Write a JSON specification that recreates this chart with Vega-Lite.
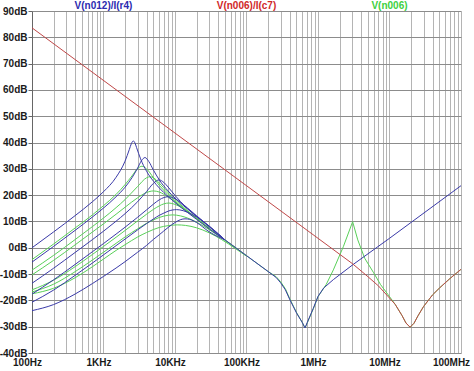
{
  "$schema": "https://vega.github.io/schema/vega-lite/v6.json",
  "width": 429,
  "height": 342,
  "autosize": {"type": "none"},
  "padding": {"left": 32, "top": 11, "right": 13, "bottom": 18},
  "background": "white",
  "config": {"view": {"stroke": null}, "font": "Liberation Sans", "axisY": {"tickCount": 13}},
  "datasets": {
    "g": [
      {"s":"g1","f":100,"v":-4.5},{"s":"g1","f":200,"v":1.4},{"s":"g1","f":400,"v":7.5},{"s":"g1","f":700,"v":12.5},{"s":"g1","f":1000,"v":16.0},{"s":"g1","f":1500,"v":20.3},{"s":"g1","f":2000,"v":24.0},{"s":"g1","f":2500,"v":27.3},{"s":"g1","f":3000,"v":30.1},{"s":"g1","f":3450,"v":31.0},{"s":"g1","f":4000,"v":30.0},{"s":"g1","f":5000,"v":26.6},{"s":"g1","f":6000,"v":23.8},{"s":"g1","f":8000,"v":20.2},{"s":"g1","f":10000,"v":17.7},{"s":"g1","f":13000,"v":15.1},{"s":"g1","f":17000,"v":12.55},{"s":"g1","f":22000,"v":10.2},{"s":"g1","f":30000,"v":7.4},
      {"s":"g2","f":100,"v":-8.5},{"s":"g2","f":200,"v":-2.9},{"s":"g2","f":400,"v":3.1},{"s":"g2","f":700,"v":8.05},{"s":"g2","f":1000,"v":11.3},{"s":"g2","f":1500,"v":15.25},{"s":"g2","f":2000,"v":18.3},{"s":"g2","f":3000,"v":23.3},{"s":"g2","f":4000,"v":26.6},{"s":"g2","f":4470,"v":27.0},{"s":"g2","f":5000,"v":26.6},{"s":"g2","f":6000,"v":24.65},{"s":"g2","f":8000,"v":20.95},{"s":"g2","f":10000,"v":18.3},{"s":"g2","f":13000,"v":15.5},{"s":"g2","f":17000,"v":12.85},{"s":"g2","f":22000,"v":10.4},{"s":"g2","f":30000,"v":7.4},
      {"s":"g3","f":100,"v":-10.3},{"s":"g3","f":200,"v":-4.8},{"s":"g3","f":400,"v":1.1},{"s":"g3","f":700,"v":6.0},{"s":"g3","f":1000,"v":9.1},{"s":"g3","f":1500,"v":12.75},{"s":"g3","f":2000,"v":15.4},{"s":"g3","f":3000,"v":19.0},{"s":"g3","f":4000,"v":21.0},{"s":"g3","f":5000,"v":21.6},{"s":"g3","f":6000,"v":21.2},{"s":"g3","f":8000,"v":19.3},{"s":"g3","f":10000,"v":17.4},{"s":"g3","f":13000,"v":15.0},{"s":"g3","f":17000,"v":12.6},{"s":"g3","f":22000,"v":10.3},{"s":"g3","f":30000,"v":7.4},
      {"s":"g4","f":100,"v":-16.0},{"s":"g4","f":200,"v":-12.35},{"s":"g4","f":400,"v":-7.2},{"s":"g4","f":700,"v":-2.55},{"s":"g4","f":1000,"v":0.5},{"s":"g4","f":1500,"v":4.0},{"s":"g4","f":2000,"v":6.55},{"s":"g4","f":3000,"v":10.2},{"s":"g4","f":4000,"v":12.75},{"s":"g4","f":5000,"v":14.6},{"s":"g4","f":6000,"v":15.9},{"s":"g4","f":7000,"v":16.7},{"s":"g4","f":8200,"v":17.0},{"s":"g4","f":10000,"v":16.5},{"s":"g4","f":13000,"v":14.9},{"s":"g4","f":17000,"v":12.65},{"s":"g4","f":22000,"v":10.35},{"s":"g4","f":30000,"v":7.4},
      {"s":"g5","f":100,"v":-16.8},{"s":"g5","f":200,"v":-13.85},{"s":"g5","f":400,"v":-9.1},{"s":"g5","f":700,"v":-4.65},{"s":"g5","f":1000,"v":-1.7},{"s":"g5","f":1500,"v":1.7},{"s":"g5","f":2000,"v":4.1},{"s":"g5","f":3000,"v":7.2},{"s":"g5","f":4000,"v":9.3},{"s":"g5","f":5000,"v":10.6},{"s":"g5","f":6000,"v":11.5},{"s":"g5","f":7000,"v":12.05},{"s":"g5","f":9280,"v":12.5},{"s":"g5","f":12000,"v":12.1},{"s":"g5","f":15000,"v":11.3},{"s":"g5","f":20000,"v":9.75},{"s":"g5","f":30000,"v":6.9},{"s":"g5","f":45000,"v":3.7},{"s":"g5","f":70000,"v":0.0},
      {"s":"g6","f":100,"v":-17.5},{"s":"g6","f":200,"v":-15.4},{"s":"g6","f":400,"v":-11.4},{"s":"g6","f":700,"v":-7.2},{"s":"g6","f":1000,"v":-4.3},{"s":"g6","f":1500,"v":-1.0},{"s":"g6","f":2000,"v":1.15},{"s":"g6","f":3000,"v":4.1},{"s":"g6","f":4000,"v":5.8},{"s":"g6","f":5000,"v":6.95},{"s":"g6","f":6000,"v":7.7},{"s":"g6","f":8000,"v":8.4},{"s":"g6","f":10800,"v":8.7},{"s":"g6","f":14000,"v":8.5},{"s":"g6","f":20000,"v":7.6},{"s":"g6","f":30000,"v":5.7},{"s":"g6","f":45000,"v":3.1},{"s":"g6","f":70000,"v":-0.3},{"s":"g6","f":100000,"v":-3.2}
    ],
    "gt": [
      {"f":30000,"v":7.4},{"f":45000,"v":3.9},{"f":70000,"v":0.1},{"f":100000,"v":-3.0},{"f":200000,"v":-9.0},{"f":260000,"v":-11.0},{"f":300000,"v":-12.9},{"f":350000,"v":-15.6},{"f":405000,"v":-19.5},{"f":503000,"v":-24.7},{"f":600000,"v":-28.3},{"f":658000,"v":-30.5},{"f":710000,"v":-28.5},{"f":860000,"v":-23.2},{"f":1000000,"v":-18.6},{"f":1300000,"v":-14.0},{"f":1640000,"v":-8.4},{"f":2260000,"v":0.4},{"f":3050000,"v":9.9},{"f":3600000,"v":3.0},{"f":4500000,"v":-4.0},{"f":6000000,"v":-9.5},{"f":7500000,"v":-14.0},{"f":9600000,"v":-17.9},{"f":12000000,"v":-21.5},{"f":15000000,"v":-25.8},{"f":17000000,"v":-28.6},{"f":19400000,"v":-30.2},{"f":22000000,"v":-28.7},{"f":25000000,"v":-25.9},{"f":30000000,"v":-22.3},{"f":40000000,"v":-17.9},{"f":50000000,"v":-15.3},{"f":70000000,"v":-11.7},{"f":100000000,"v":-8.2}
    ],
    "b": [
      {"s":"b1","f":100,"v":0.0},{"s":"b1","f":200,"v":6.0},{"s":"b1","f":400,"v":12.2},{"s":"b1","f":700,"v":17.5},{"s":"b1","f":1000,"v":21.3},{"s":"b1","f":1500,"v":26.8},{"s":"b1","f":2000,"v":32.9},{"s":"b1","f":2300,"v":37.4},{"s":"b1","f":2450,"v":39.55},{"s":"b1","f":2610,"v":40.6},{"s":"b1","f":2750,"v":39.85},{"s":"b1","f":2900,"v":38.1},{"s":"b1","f":3300,"v":33.8},{"s":"b1","f":4000,"v":29.1},{"s":"b1","f":5000,"v":25.3},{"s":"b1","f":6000,"v":22.8},{"s":"b1","f":8000,"v":19.5},{"s":"b1","f":10000,"v":17.2},{"s":"b1","f":15000,"v":13.4},{"s":"b1","f":20000,"v":10.8},{"s":"b1","f":30000,"v":7.2},{"s":"b1","f":50000,"v":3.0},
      {"s":"b2","f":100,"v":-5.45},{"s":"b2","f":200,"v":0.5},{"s":"b2","f":400,"v":6.6},{"s":"b2","f":700,"v":11.7},{"s":"b2","f":1000,"v":15.1},{"s":"b2","f":1500,"v":19.4},{"s":"b2","f":2000,"v":23.0},{"s":"b2","f":2500,"v":26.6},{"s":"b2","f":3000,"v":30.3},{"s":"b2","f":3400,"v":33.1},{"s":"b2","f":3800,"v":34.3},{"s":"b2","f":4300,"v":32.8},{"s":"b2","f":5000,"v":29.5},{"s":"b2","f":6000,"v":25.9},{"s":"b2","f":8000,"v":21.6},{"s":"b2","f":10000,"v":18.9},{"s":"b2","f":15000,"v":14.7},{"s":"b2","f":20000,"v":12.0},{"s":"b2","f":30000,"v":8.1},{"s":"b2","f":50000,"v":3.0},
      {"s":"b3","f":100,"v":-13.5},{"s":"b3","f":200,"v":-7.8},{"s":"b3","f":400,"v":-1.8},{"s":"b3","f":700,"v":3.1},{"s":"b3","f":1000,"v":6.3},{"s":"b3","f":1500,"v":10.1},{"s":"b3","f":2000,"v":12.95},{"s":"b3","f":3000,"v":17.5},{"s":"b3","f":4000,"v":21.35},{"s":"b3","f":5000,"v":24.5},{"s":"b3","f":6000,"v":25.8},{"s":"b3","f":7000,"v":24.8},{"s":"b3","f":8000,"v":23.1},{"s":"b3","f":10000,"v":19.9},{"s":"b3","f":12000,"v":17.5},{"s":"b3","f":15000,"v":14.9},{"s":"b3","f":20000,"v":11.9},{"s":"b3","f":30000,"v":8.0},{"s":"b3","f":50000,"v":3.0},
      {"s":"b4","f":100,"v":-17.6},{"s":"b4","f":200,"v":-12.2},{"s":"b4","f":400,"v":-6.35},{"s":"b4","f":700,"v":-1.5},{"s":"b4","f":1000,"v":1.6},{"s":"b4","f":1500,"v":5.2},{"s":"b4","f":2000,"v":7.8},{"s":"b4","f":3000,"v":11.6},{"s":"b4","f":4000,"v":14.4},{"s":"b4","f":5000,"v":16.6},{"s":"b4","f":6000,"v":18.2},{"s":"b4","f":7000,"v":19.1},{"s":"b4","f":8000,"v":19.4},{"s":"b4","f":10000,"v":18.65},{"s":"b4","f":12000,"v":17.2},{"s":"b4","f":15000,"v":15.1},{"s":"b4","f":20000,"v":12.2},{"s":"b4","f":30000,"v":8.2},{"s":"b4","f":50000,"v":3.0},
      {"s":"b5","f":100,"v":-20.7},{"s":"b5","f":200,"v":-16.1},{"s":"b5","f":400,"v":-10.5},{"s":"b5","f":700,"v":-5.8},{"s":"b5","f":1000,"v":-2.7},{"s":"b5","f":1500,"v":0.8},{"s":"b5","f":2000,"v":3.3},{"s":"b5","f":3000,"v":6.8},{"s":"b5","f":4000,"v":9.2},{"s":"b5","f":5000,"v":10.95},{"s":"b5","f":6000,"v":12.3},{"s":"b5","f":7000,"v":13.2},{"s":"b5","f":8000,"v":13.9},{"s":"b5","f":10500,"v":14.5},{"s":"b5","f":13000,"v":14.1},{"s":"b5","f":15000,"v":13.5},{"s":"b5","f":20000,"v":11.7},{"s":"b5","f":30000,"v":8.3},{"s":"b5","f":50000,"v":3.0},
      {"s":"b6","f":100,"v":-23.9},{"s":"b6","f":200,"v":-21.6},{"s":"b6","f":400,"v":-17.6},{"s":"b6","f":700,"v":-13.6},{"s":"b6","f":1000,"v":-10.9},{"s":"b6","f":1500,"v":-7.7},{"s":"b6","f":2000,"v":-5.3},{"s":"b6","f":3000,"v":-1.7},{"s":"b6","f":4000,"v":0.9},{"s":"b6","f":5000,"v":3.2},{"s":"b6","f":6000,"v":4.9},{"s":"b6","f":8000,"v":7.7},{"s":"b6","f":10000,"v":9.6},{"s":"b6","f":12000,"v":10.7},{"s":"b6","f":13800,"v":11.0},{"s":"b6","f":16000,"v":10.8},{"s":"b6","f":20000,"v":9.6},{"s":"b6","f":30000,"v":6.1},{"s":"b6","f":50000,"v":3.0}
    ],
    "bt": [
      {"f":50000,"v":3.0},{"f":100000,"v":-3.0},{"f":200000,"v":-9.0},{"f":260000,"v":-11.3},{"f":300000,"v":-13.3},{"f":350000,"v":-16.0},{"f":405000,"v":-19.8},{"f":503000,"v":-24.9},{"f":600000,"v":-28.3},{"f":658000,"v":-30.5},{"f":710000,"v":-28.3},{"f":860000,"v":-23.0},{"f":1000000,"v":-18.5},{"f":1200000,"v":-15.3},{"f":1640000,"v":-12.1},{"f":3120000,"v":-6.3},{"f":10000000,"v":3.6},{"f":100000000,"v":23.6}
    ],
    "r": [
      {"f":100,"v":83.6},{"f":1000000,"v":3.6},{"f":3000000,"v":-5.95},{"f":5000000,"v":-11.0},{"f":7000000,"v":-14.5},{"f":10000000,"v":-19.1},{"f":12000000,"v":-21.5},{"f":15000000,"v":-25.8},{"f":17000000,"v":-28.6},{"f":19400000,"v":-30.2},{"f":22000000,"v":-28.7},{"f":25000000,"v":-25.9},{"f":30000000,"v":-22.3},{"f":40000000,"v":-17.9},{"f":50000000,"v":-15.3},{"f":70000000,"v":-11.7},{"f":100000000,"v":-8.2}
    ],
    "lab": [
      {"f":1000,"t":"V(n012)/I(r4)","k":"b"},
      {"f":100000,"t":"V(n006)/I(c7)","k":"r"},
      {"f":10000000,"t":"V(n006)","k":"g"}
    ]
  },
  "layer": [
    {
      "data": {"name": "g"},
      "mark": {"type": "line", "interpolate": "monotone", "strokeWidth": 1, "color": "#58d058"},
      "encoding": {
        "x": {
          "field": "f", "type": "quantitative",
          "scale": {"type": "log", "domain": [100, 100000000], "nice": false},
          "axis": {
            "title": null,
            "grid": true, "gridColor": "#b4b4b4", "gridWidth": 1,
            "ticks": false, "domain": false,
            "labelExpr": "datum.value==100?'100Hz':datum.value==1000?'1KHz':datum.value==10000?'10KHz':datum.value==100000?'100KHz':datum.value==1000000?'1MHz':datum.value==10000000?'10MHz':datum.value==100000000?'100MHz':''",
            "labelFont": "Liberation Sans", "labelFontSize": 10, "labelFontWeight": "bold", "labelColor": "#1a1a1a",
            "labelPadding": 4, "labelOverlap": false, "labelBound": false, "labelFlush": false,
            "labelOffset": {"condition": {"test": "datum.value==100000000", "value": -10}, "value": -5}
          }
        },
        "y": {
          "field": "v", "type": "quantitative",
          "scale": {"domain": [-40, 90], "nice": false, "zero": false},
          "axis": {
            "title": null,
            "tickCount": 13,
            "grid": true, "gridColor": "#8c8c8c", "gridWidth": 1,
            "ticks": true, "tickSize": 4, "tickColor": "#666666",
            "domain": true, "domainColor": "#666666",
            "labelExpr": "datum.value+'dB'",
            "labelFont": "Liberation Sans", "labelFontSize": 10, "labelFontWeight": "bold", "labelColor": "#1a1a1a",
            "labelPadding": 1, "labelOverlap": false, "labelBound": false, "labelFlush": false
          }
        },
        "detail": {"field": "s"}
      }
    },
    {
      "data": {"name": "gt"},
      "mark": {"type": "line", "interpolate": "linear", "strokeWidth": 1, "color": "#58d058"},
      "encoding": {
        "x": {"field": "f", "type": "quantitative", "title": null},
        "y": {"field": "v", "type": "quantitative", "title": null}
      }
    },
    {
      "data": {"name": "b"},
      "mark": {"type": "line", "interpolate": "monotone", "strokeWidth": 1, "color": "#3a3aa8"},
      "encoding": {
        "x": {"field": "f", "type": "quantitative", "title": null},
        "y": {"field": "v", "type": "quantitative", "title": null},
        "detail": {"field": "s"}
      }
    },
    {
      "data": {"name": "bt"},
      "mark": {"type": "line", "interpolate": "linear", "strokeWidth": 1, "color": "#3a3aa8"},
      "encoding": {
        "x": {"field": "f", "type": "quantitative", "title": null},
        "y": {"field": "v", "type": "quantitative", "title": null}
      }
    },
    {
      "data": {"name": "r"},
      "mark": {"type": "line", "interpolate": "linear", "strokeWidth": 1, "color": "#c04848"},
      "encoding": {
        "x": {"field": "f", "type": "quantitative", "title": null},
        "y": {"field": "v", "type": "quantitative", "title": null}
      }
    },
    {
      "data": {"name": "lab"},
      "mark": {"type": "text", "font": "Liberation Sans", "fontSize": 10, "fontWeight": "bold", "baseline": "middle", "align": "center"},
      "encoding": {
        "x": {"field": "f", "type": "quantitative", "title": null},
        "y": {"datum": 92, "type": "quantitative", "title": null},
        "text": {"field": "t"},
        "color": {"field": "k", "type": "nominal", "scale": {"domain": ["b", "r", "g"], "range": ["#2b2bb0", "#d02828", "#40d040"]}, "legend": null}
      }
    }
  ]
}
